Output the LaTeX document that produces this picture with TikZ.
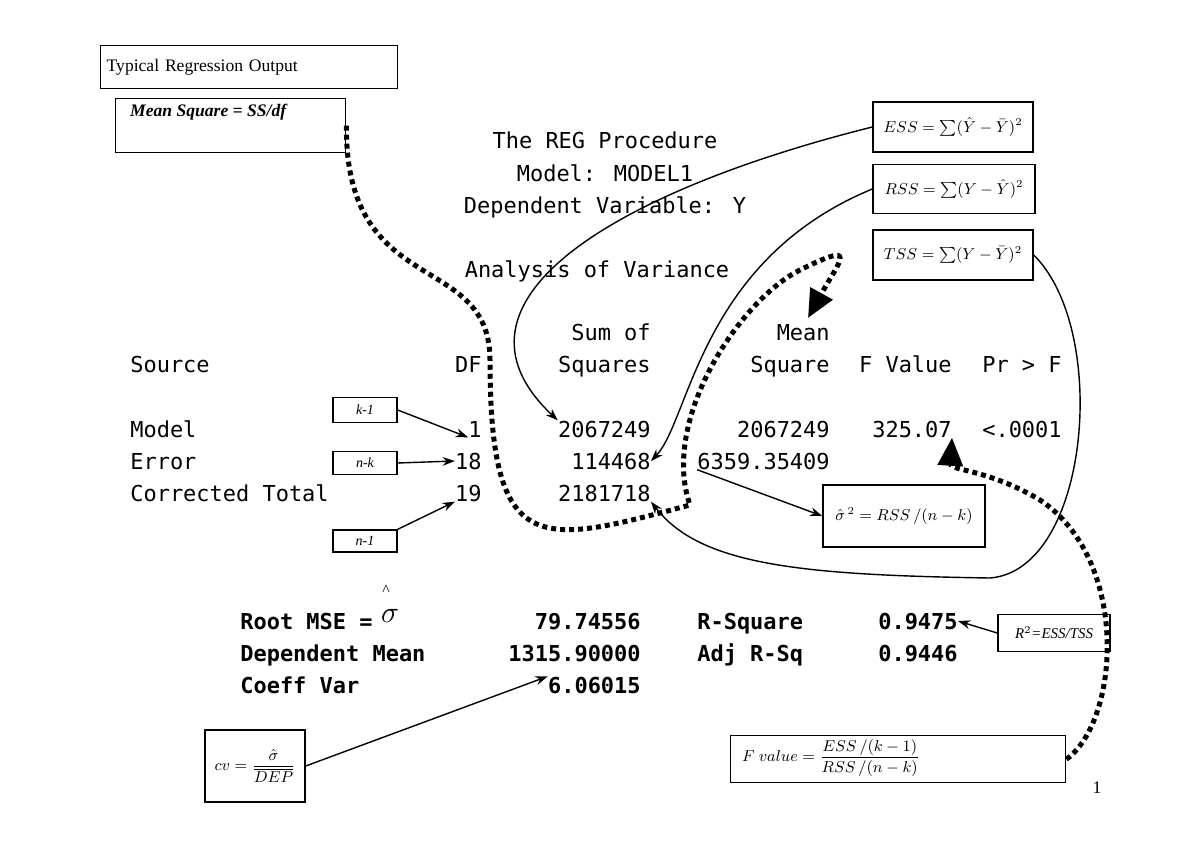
\documentclass[tikz,border=0pt]{standalone}
\usepackage{amsmath}
\usepackage{fontspec}
\setmainfont{Liberation Serif}
\newfontfamily\monofont{DejaVu Sans Mono}
\usetikzlibrary{arrows.meta,positioning}
\begin{document}
\begin{tikzpicture}
  [x=0.02cm,y=-0.02cm,
   outN/.style={inner sep=0pt,font=\monofont\fontsize{12.5pt}{15pt}\selectfont},
   boldN/.style={outN,font=\monofont\bfseries\fontsize{12.5pt}{15pt}\selectfont},
   boxN/.style={draw,thick,inner sep=0pt,font=\fontsize{10pt}{12pt}\selectfont},
   thinArrow/.style={-{Stealth[length=7pt,width=5pt]},thick},
   dotted path/.style={line width=0.1cm,dash pattern=on 0.1cm off 0.08cm},
   dotTip/.style={dotted path,-{Triangle[length=16pt,width=14pt]}}]

 \useasboundingbox (0,0) rectangle (1200,848);

 % boxes on the left
 \node [boxN,minimum width=297*0.02cm,minimum height=43*0.02cm,anchor=north west,
        text width=285*0.02cm,align=left] (title) at (100,45) {Typical Regression Output};
 \node [boxN,minimum width=230*0.02cm,minimum height=54*0.02cm,anchor=north west] (msbox) at (115,98) {};
 \node [anchor=west,font=\bfseries\itshape\fontsize{10pt}{12pt}\selectfont] (mstext) at (124,112) {Mean Square = SS/df};

 % procedure header
 \node [outN,anchor=base] (proc) at (605,149) {The REG Procedure};
 \node [outN,anchor=base] (model) at (605,181) {Model: MODEL1};
 \node [outN,anchor=base] (dep) at (605,213) {Dependent Variable: Y};
 \node [outN,anchor=base] (anova) at (597,277) {Analysis of Variance};

 % table header
 \node [outN,anchor=base east] (sumof) at (651,340) {Sum of};
 \node [outN,anchor=base east] (mean) at (830,340) {Mean};
 \node [outN,anchor=base west] (source) at (130,372) {Source};
 \node [outN,anchor=base east] (df) at (482,372) {DF};
 \node [outN,anchor=base east] (squares) at (651,372) {Squares};
 \node [outN,anchor=base east] (square) at (830,372) {Square};
 \node [outN,anchor=base east] (fval) at (952,372) {F Value};
 \node [outN,anchor=base east] (prf) at (1062,372) {Pr > F};

 % rows
 \node [outN,anchor=base west] (rmodel) at (130,437) {Model};
 \node [outN,anchor=base east] (df1) at (482,437) {1};
 \node [outN,anchor=base east] (ss1) at (651,437) {2067249};
 \node [outN,anchor=base east] (ms1) at (830,437) {2067249};
 \node [outN,anchor=base east] (f1) at (952,437) {325.07};
 \node [outN,anchor=base east] (p1) at (1062,437) {<.0001};
 \node [outN,anchor=base west] (rerror) at (130,469) {Error};
 \node [outN,anchor=base east] (df2) at (482,469) {18};
 \node [outN,anchor=base east] (ss2) at (651,469) {114468};
 \node [outN,anchor=base east] (ms2) at (830,469) {6359.35409};
 \node [outN,anchor=base west] (rtotal) at (130,501) {Corrected Total};
 \node [outN,anchor=base east] (df3) at (482,501) {19};
 \node [outN,anchor=base east] (ss3) at (651,501) {2181718};

 % fit statistics
 \node [boldN,anchor=base west] (rmse) at (240,629) {Root MSE =};
 \node [inner sep=0pt,font=\fontsize{18pt}{18pt}\selectfont] (sig) at (390,616) {$\sigma$};
 \node [inner sep=0pt,font=\fontsize{9pt}{9pt}\selectfont] (sighat) at (386,590) {\textasciicircum};
 \node [boldN,anchor=base east] (rmsev) at (641,629) {79.74556};
 \node [boldN,anchor=base west] (rsq) at (697,629) {R-Square};
 \node [boldN,anchor=base east] (rsqv) at (958,629) {0.9475};
 \node [boldN,anchor=base west] (depm) at (240,661) {Dependent Mean};
 \node [boldN,anchor=base east] (depmv) at (641,661) {1315.90000};
 \node [boldN,anchor=base west] (adj) at (697,661) {Adj R-Sq};
 \node [boldN,anchor=base east] (adjv) at (958,661) {0.9446};
 \node [boldN,anchor=base west] (cvar) at (240,693) {Coeff Var};
 \node [boldN,anchor=base east] (cvarv) at (641,693) {6.06015};

 % small df boxes
 \node [boxN,minimum width=64*0.02cm,minimum height=25*0.02cm,font=\itshape\fontsize{8pt}{9pt}\selectfont] (km1) at (365,410) {k-1};
 \node [boxN,minimum width=64*0.02cm,minimum height=23*0.02cm,font=\itshape\fontsize{8pt}{9pt}\selectfont] (nmk) at (365,463) {n-k};
 \node [boxN,minimum width=64*0.02cm,minimum height=22*0.02cm,font=\itshape\fontsize{8pt}{9pt}\selectfont] (nm1) at (365,541) {n-1};

 % formula boxes
 \node [boxN,minimum width=160*0.02cm,minimum height=50*0.02cm,font=\fontsize{9pt}{10pt}\selectfont] (ess) at (953,127) {$ESS=\sum(\hat Y-\bar Y)^2$};
 \node [boxN,minimum width=162*0.02cm,minimum height=49*0.02cm,font=\fontsize{9pt}{10pt}\selectfont] (rss) at (954,189) {$RSS=\sum(Y-\hat Y)^2$};
 \node [boxN,minimum width=160*0.02cm,minimum height=50*0.02cm,font=\fontsize{9pt}{10pt}\selectfont] (tss) at (953,255) {$TSS=\sum(Y-\bar Y)^2$};
 \node [boxN,minimum width=162*0.02cm,minimum height=62*0.02cm,font=\fontsize{9pt}{10pt}\selectfont] (sig2) at (904,516) {$\hat{\sigma}^{\,2} = RSS\,/(n-k)$};
 \node [boxN,minimum width=112*0.02cm,minimum height=37*0.02cm,font=\itshape\fontsize{8.5pt}{9pt}\selectfont] (r2) at (1054,633) {R$^2$=ESS/TSS};
 \node [boxN,minimum width=335*0.02cm,minimum height=47*0.02cm,anchor=north west] (fbox) at (730,735) {};
 \node [anchor=west,font=\fontsize{9pt}{10pt}\selectfont] (ftext) at (736,758) {$F\ value=\dfrac{ESS\,/(k-1)}{RSS\,/(n-k)}$};
 \node [boxN,minimum width=100*0.02cm,minimum height=72*0.02cm,font=\fontsize{9pt}{10pt}\selectfont] (cvbox) at (255,766) {$cv=\dfrac{\hat\sigma}{\overline{DEP}}$};
 \node [font=\fontsize{10pt}{12pt}\selectfont] (page) at (1097,788) {1};

 % thin connectors
 \draw [thinArrow] (km1.east) -- (df1.south west);
 \draw [thinArrow] (nmk.east) -- (df2.west);
 \draw [thinArrow] (nm1.north east) -- (df3.south west);
 \draw [thinArrow] (ess.west) .. controls (620,190) and (430,300) .. (ss1.north west);
 \draw [thinArrow] (rss.west) .. controls (700,260) and (690,420) .. (ss2.east);
 \draw [thinArrow] (tss.east) .. controls (1110,330) and (1090,570) .. (990,578)
    .. controls (800,575) and (700,565) .. (ss3.south east);
 \draw [thinArrow] (ms2.south west) -- (sig2.west);
 \draw [thinArrow] (r2.west) -- (rsqv.east);
 \draw [thinArrow] (cvbox.east) -- (cvarv.north west);

 % dotted connectors
 \draw [dotTip] (msbox.east) .. controls (345,300) and (490,250) .. (490,360)
    .. controls (490,560) and (540,545) .. (690,505)
    .. controls (660,420) and (740,300) .. (800,270)
    .. controls (860,240) and (840,260) .. (808,318);
 \draw [dotTip] (fbox.east) .. controls (1120,720) and (1130,560) .. (1040,500)
    .. controls (990,470) and (950,470) .. (f1.south east);
\end{tikzpicture}
\end{document}
